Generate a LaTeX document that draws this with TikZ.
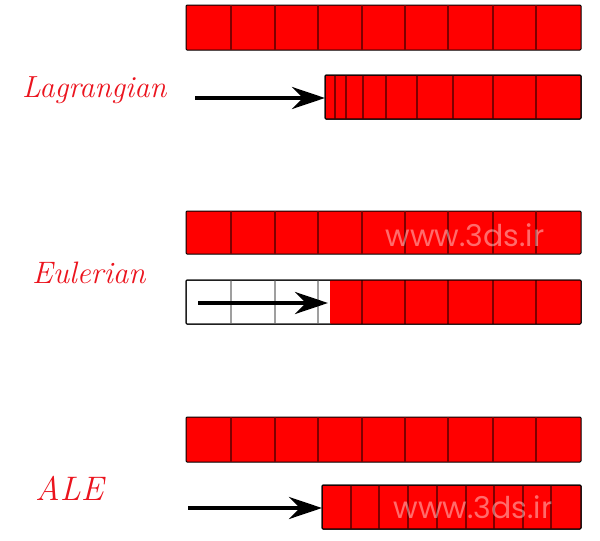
\documentclass[tikz,border=0pt]{standalone}
\usepackage{fontspec}
\newfontfamily\wmfont{Poppins}
\usetikzlibrary{arrows.meta}
\definecolor{cellred}{RGB}{255,0,0}
\definecolor{divred}{RGB}{125,0,0}
\definecolor{labred}{RGB}{235,20,30}
\begin{document}
\begin{tikzpicture}[x=1pt,y=-1pt,
  bar/.style={draw=black, line width=1pt, rounded corners=1pt, fill=cellred,
    inner sep=0pt, outer sep=0pt, anchor=north west},
  div/.style={draw=divred, line width=1.5pt},
  gdiv/.style={draw=gray!75, line width=1.5pt},
  arr/.style={line width=4.5pt, -{Stealth[length=33pt,width=22pt,inset=11pt]}},
  lbl/.style={text=labred, anchor=base west, inner sep=0pt},
  wm/.style={text=white, opacity=0.42, inner sep=0pt, font=\wmfont\fontsize{30}{30}\selectfont}]
\useasboundingbox (0,0) rectangle (600,541);

% Lagrangian
\node[bar, minimum width=395pt, minimum height=45pt] (T1) at (186,5) {};
\foreach \x in {231,275,318,362,405,448,493,536}
  \draw[div] (\x,0 |- T1.north) -- (\x,0 |- T1.south);
\node[bar, minimum width=256pt, minimum height=44pt] (L2) at (325,75) {};
\foreach \x in {335,346,363,386,417,453,493,536}
  \draw[div] (\x,0 |- L2.north) -- (\x,0 |- L2.south);
\draw[black, line width=1pt, rounded corners=1pt] (L2.north west) rectangle (L2.south east);
\coordinate (la) at (195,98);
\draw[arr] (la) -- (la -| L2.west);
\node[lbl, font=\itshape\fontsize{30.5}{30.5}\selectfont] (lagr) at (22,97) {Lagrangian};

% Eulerian
\node[bar, minimum width=395pt, minimum height=43pt] (E1) at (186,211) {};
\foreach \x in {231,275,318,362,405,448,493,536}
  \draw[div] (\x,0 |- E1.north) -- (\x,0 |- E1.south);
\node[wm] (wm1) at (465,235) {www.3ds.ir};
\node[bar, fill=white, minimum width=395pt, minimum height=44pt] (E2) at (186,280) {};
\fill[cellred, rounded corners=1pt] (330,0 |- E2.north) rectangle (E2.south east);
\foreach \x in {231,275,318}
  \draw[gdiv] (\x,0 |- E2.north) -- (\x,0 |- E2.south);
\foreach \x in {362,405,448,493,536}
  \draw[div] (\x,0 |- E2.north) -- (\x,0 |- E2.south);
\draw[black, line width=1pt, rounded corners=1pt] (E2.north west) rectangle (E2.south east);
\coordinate (ea) at (198,303);
\coordinate (eb) at (328,303);
\draw[arr] (ea) -- (eb);
\node[lbl, font=\itshape\fontsize{31}{31}\selectfont] (eul) at (32,283) {Eulerian};

% ALE
\node[bar, minimum width=395pt, minimum height=45pt] (A1) at (186,417) {};
\foreach \x in {231,275,318,362,405,448,493,536}
  \draw[div] (\x,0 |- A1.north) -- (\x,0 |- A1.south);
\node[bar, minimum width=259pt, minimum height=44pt] (A2) at (322,485) {};
\foreach \x in {351,379,408,437,466,494,523,551}
  \draw[div] (\x,0 |- A2.north) -- (\x,0 |- A2.south);
\draw[black, line width=1pt, rounded corners=1pt] (A2.north west) rectangle (A2.south east);
\node[wm] (wm2) at (473,507) {www.3ds.ir};
\coordinate (aa) at (188,508);
\draw[arr] (aa) -- (aa -| A2.west);
\node[lbl, font=\itshape\fontsize{34}{34}\selectfont] (ale) at (35,500) {ALE};
\end{tikzpicture}
\end{document}
